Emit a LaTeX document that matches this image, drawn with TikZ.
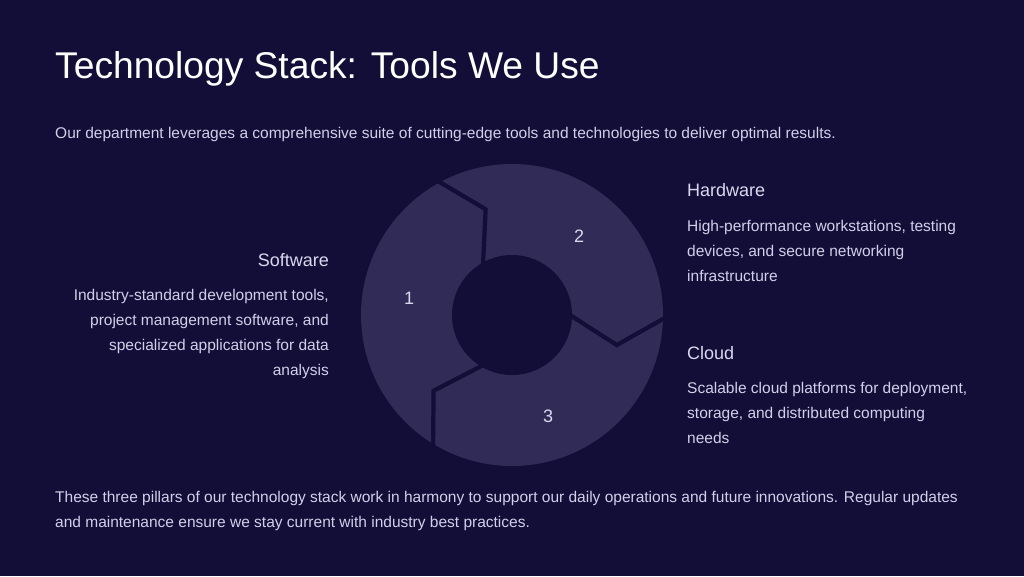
\documentclass[tikz,border=0pt]{standalone}
\usepackage{fontspec}
\setmainfont{Liberation Sans}
\usetikzlibrary{calc}
\definecolor{bgc}{RGB}{19,14,55}
\definecolor{ringc}{RGB}{48,43,87}
\definecolor{txtc}{RGB}{210,207,234}
\definecolor{headc}{RGB}{218,216,240}
\tikzset{
  title/.style={anchor=base west, inner sep=0pt, text=white, font=\fontsize{37.2}{40}\selectfont},
  body/.style={inner sep=0pt, text=txtc, font=\fontsize{15.5}{25}\selectfont},
  head/.style={inner sep=0pt, text=headc, font=\fontsize{18}{20}\selectfont},
  num/.style={inner sep=0pt, text=headc, font=\fontsize{18}{20}\selectfont},
  gapline/.style={draw=bgc, line width=4.2pt, line join=miter}
}
\begin{document}
\begin{tikzpicture}[x=1pt,y=-1pt]
\fill[bgc] (0,0) rectangle (1024,576);
\useasboundingbox (0,0) rectangle (1024,576);
\node[title] (ttl) at (55,78) {Technology Stack: Tools We Use};
\node[body, anchor=base west] (sub) at (55,138) {Our department leverages a comprehensive suite of cutting-edge tools and technologies to deliver optimal results.};
% ring
\coordinate (c) at (512,315);
\fill[ringc] (c) circle (151);
\fill[bgc] (c) circle (60);
\foreach \a/\n in {0/a,-120/b,-240/d}{
  \draw[gapline] ($(c)+(\a:58)$) coordinate (in\n) -- ($(c)+(\a+16:109)$) coordinate (k\n) -- ($(c)+(\a:158)$) coordinate (out\n);
}
\node[num] (n1) at (409,298) {1};
\node[num] (n2) at (579,236) {2};
\node[num] (n3) at (548,416) {3};
% software
\node[head, anchor=base east] (swh) at (329,266) {Software};
\node[body, anchor=north east, align=right] (swb) at (329,289) {Industry-standard development tools,\\project management software, and\\specialized applications for data\\analysis};
% hardware
\node[head, anchor=base west] (hwh) at (687,196) {Hardware};
\node[body, anchor=north west, align=left] (hwb) at (687,220) {High-performance workstations, testing\\devices, and secure networking\\infrastructure};
% cloud
\node[head, anchor=base west] (clh) at (687,359) {Cloud};
\node[body, anchor=north west, align=left] (clb) at (687,382) {Scalable cloud platforms for deployment,\\storage, and distributed computing\\needs};
% footer
\node[body, anchor=north west, align=left] (ftr) at (55,491) {These three pillars of our technology stack work in harmony to support our daily operations and future innovations. Regular updates\\and maintenance ensure we stay current with industry best practices.};
\end{tikzpicture}
\end{document}
